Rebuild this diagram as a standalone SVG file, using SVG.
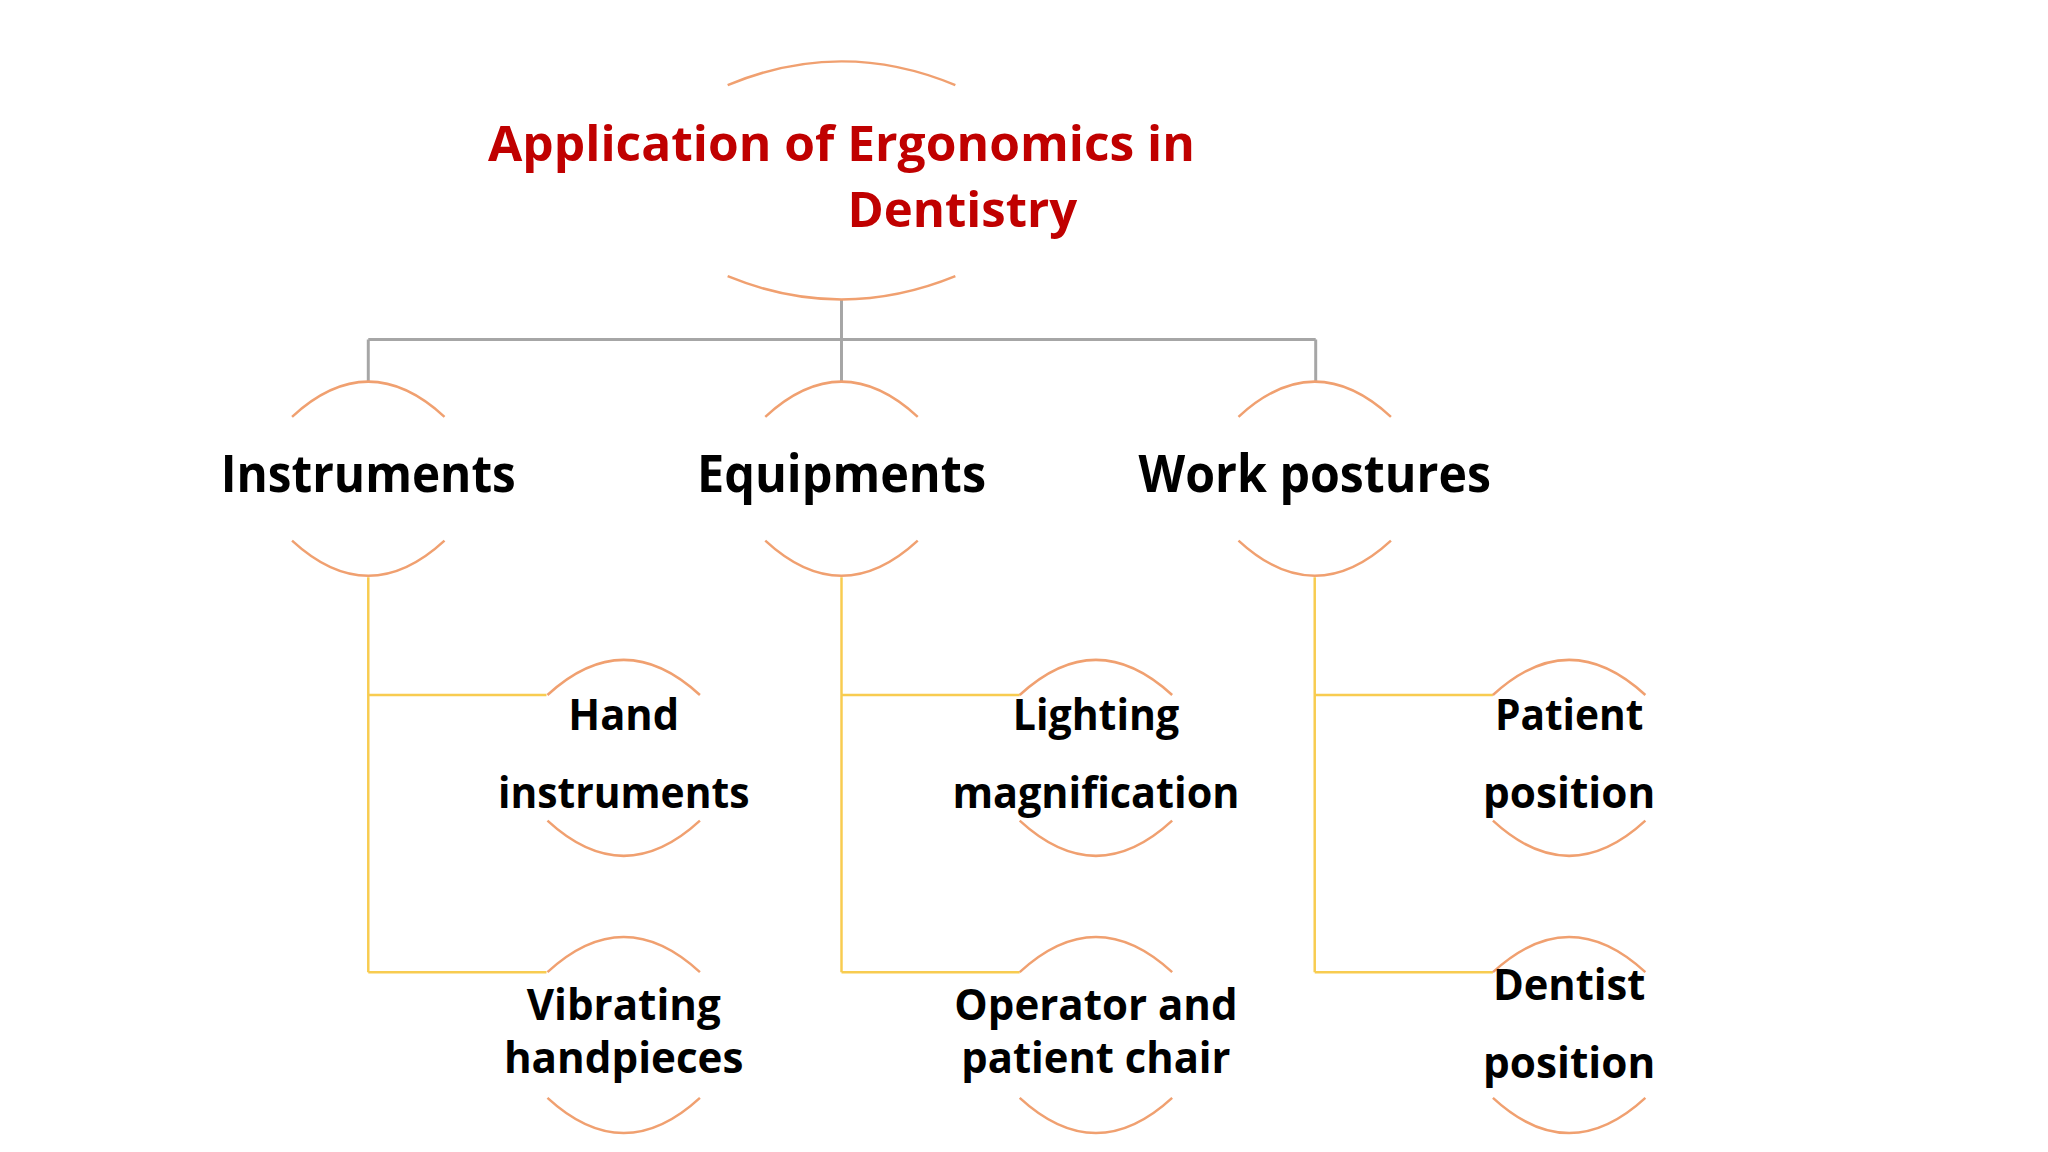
<svg xmlns="http://www.w3.org/2000/svg" width="2048" height="1152" viewBox="0 0 2048 1152">
<style>
.arc{fill:none;stroke:#F0A070;stroke-width:2.5}
.gray{fill:none;stroke:#A6A6A6;stroke-width:3}
.yel{fill:none;stroke:#F8CC50;stroke-width:2.5}
text{font-family:"Open Sans","Liberation Sans",sans-serif;font-weight:bold;text-anchor:middle;fill:#000}
.t{fill:#C00000;font-size:49px}
.m{font-size:52px}
.s{font-size:44px}
</style>
<rect width="2048" height="1152" fill="#fff"/>
<g transform="scale(0.99)">
<g id="connectors">
<path class="gray" d="M850 302V343M372 343H1329M372 343V385M850 343V385M1329 343V385"/>
<path class="yel" d="M372 583V982M372 702H552M372 982H552"/>
<path class="yel" d="M850 583V982M850 702H1030M850 982H1030"/>
<path class="yel" d="M1328 583V982M1328 702H1508M1328 982H1508"/>
</g>
<g id="root">
<path class="arc" d="M735 86Q850 38 965 86"/>
<path class="arc" d="M735 279Q850 326 965 279"/>
<text class="t" x="850" y="163" textLength="714" lengthAdjust="spacingAndGlyphs">Application of Ergonomics in</text>
<text class="t" x="972" y="229" textLength="232" lengthAdjust="spacingAndGlyphs">Dentistry</text>
</g>
<g id="instruments">
<path class="arc" d="M295 421Q372 350 449 421"/><path class="arc" d="M295 546Q372 617 449 546"/>
<text class="m" x="372" y="497" textLength="298" lengthAdjust="spacingAndGlyphs">Instruments</text>
</g>
<g id="equipments">
<path class="arc" d="M773 421Q850 350 927 421"/><path class="arc" d="M773 546Q850 617 927 546"/>
<text class="m" x="850" y="497" textLength="292" lengthAdjust="spacingAndGlyphs">Equipments</text>
</g>
<g id="work-postures">
<path class="arc" d="M1251 421Q1328 350 1405 421"/><path class="arc" d="M1251 546Q1328 617 1405 546"/>
<text class="m" x="1328" y="497" textLength="356" lengthAdjust="spacingAndGlyphs">Work postures</text>
</g>
<g id="hand-instruments">
<path class="arc" d="M553 702Q630 631 707 702"/><path class="arc" d="M553 829Q630 900 707 829"/>
<text class="s" x="630" y="737" textLength="112" lengthAdjust="spacingAndGlyphs">Hand</text>
<text class="s" x="630" y="816" textLength="254" lengthAdjust="spacingAndGlyphs">instruments</text>
</g>
<g id="lighting">
<path class="arc" d="M1030 702Q1107 631 1184 702"/><path class="arc" d="M1030 829Q1107 900 1184 829"/>
<text class="s" x="1107" y="737" textLength="168" lengthAdjust="spacingAndGlyphs">Lighting</text>
<text class="s" x="1107" y="816" textLength="290" lengthAdjust="spacingAndGlyphs">magnification</text>
</g>
<g id="patient-position">
<path class="arc" d="M1508 702Q1585 631 1662 702"/><path class="arc" d="M1508 829Q1585 900 1662 829"/>
<text class="s" x="1585" y="737" textLength="150" lengthAdjust="spacingAndGlyphs">Patient</text>
<text class="s" x="1585" y="816" textLength="174" lengthAdjust="spacingAndGlyphs">position</text>
</g>
<g id="vibrating">
<path class="arc" d="M553 982Q630 911 707 982"/><path class="arc" d="M553 1109Q630 1180 707 1109"/>
<text class="s" x="630" y="1030" textLength="196" lengthAdjust="spacingAndGlyphs">Vibrating</text>
<text class="s" x="630" y="1084" textLength="242" lengthAdjust="spacingAndGlyphs">handpieces</text>
</g>
<g id="operator-chair">
<path class="arc" d="M1030 982Q1107 911 1184 982"/><path class="arc" d="M1030 1109Q1107 1180 1184 1109"/>
<text class="s" x="1107" y="1030" textLength="286" lengthAdjust="spacingAndGlyphs">Operator and</text>
<text class="s" x="1107" y="1084" textLength="272" lengthAdjust="spacingAndGlyphs">patient chair</text>
</g>
<g id="dentist-position">
<path class="arc" d="M1508 982Q1585 911 1662 982"/><path class="arc" d="M1508 1109Q1585 1180 1662 1109"/>
<text class="s" x="1585" y="1010" textLength="154" lengthAdjust="spacingAndGlyphs">Dentist</text>
<text class="s" x="1585" y="1089" textLength="174" lengthAdjust="spacingAndGlyphs">position</text>
</g>
</g>
</svg>
